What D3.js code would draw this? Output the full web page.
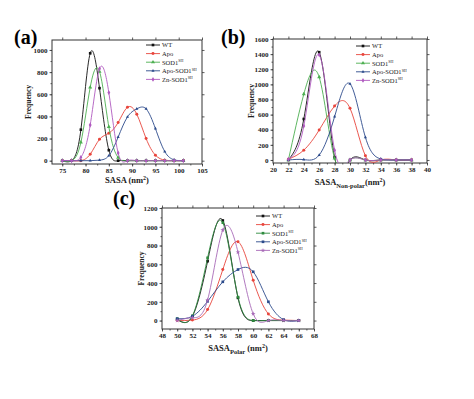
<body style="margin:0;background:#fff">
  <script src="https://d3js.org/d3.v7.min.js"></script>

  <style>
    text {
      font-family: "Liberation Serif", "DejaVu Serif", serif;
      font-weight: bold;
      fill: #222;
    }
    .tick-label { font-size: 7px; }
    .legend-text { font-size: 6.5px; font-weight: normal; }
    .panel-title { font-size: 20px; fill: #000; }
  </style>
  <script>

    // series names + colours
    const names = ["WT", "Apo", "SOD1", "Apo-SOD1", "Zn-SOD1"];
    const colors = ["#111111", "#e8453c", "#4caf50", "#2b4a8b", "#b05ac0"];
    const colorsC = ["#111111", "#e8453c", "#2e8b3e", "#2b4a8b", "#a86ab8"];

    // (a) SASA
    const aX = [75, 77, 79, 81, 83, 85, 87, 89, 91, 93, 95, 97, 99, 101];
    const aWT = [0, 0, 280, 970, 655, 95, 0, 0, 0, 0, 0, 0, 0, 0];
    const aApo = [0, 0, 0, 58, 193, 248, 345, 482, 420, 200, 50, 5, 0, 0];
    const aSOD1 = [0, 0, 165, 662, 805, 305, 28, 0, 0, 0, 0, 0, 0, 0];
    const aApoSOD1 = [0, 0, 0, 0, 5, 45, 213, 395, 468, 468, 290, 83, 8, 0];
    const aZnSOD1 = [0, 0, 30, 322, 830, 615, 70, 0, 0, 0, 0, 0, 0, 0];
    const aXTicks = [75, 80, 85, 90, 95, 100, 105];
    const aYTicks = [0, 200, 400, 600, 800, 1000];

    // (b) SASA non-polar
    const bX = [22, 24, 26, 28, 30, 32, 34, 36, 38];
    const bWT = [0, 542, 1425, 36, 0, 0, 0, 0, 0];
    const bApo = [10, 130, 397, 714, 684, 57, 0, 0, 0];
    const bSOD1 = [0, 870, 1095, 20, 0, 0, 0, 0, 0];
    const bApoSOD1 = [0, 5, 65, 573, 1007, 300, 14, 0, 0];
    const bZnSOD1 = [10, 450, 1390, 130, 0, 0, 0, 0, 0];
    const bXTicks = [20, 22, 24, 26, 28, 30, 32, 34, 36, 38, 40];
    const bYTicks = [0, 200, 400, 600, 800, 1000, 1200, 1400, 1600];

    // (c) SASA polar
    const cX = [50, 52, 54, 56, 58, 60, 62, 64, 66];
    const cWT = [10, 46, 633, 1067, 242, 0, 0, 0, 0];
    const cApo = [0, 5, 117, 544, 840, 430, 71, 5, 0];
    const cSOD1 = [20, 50, 669, 1043, 250, 0, 0, 0, 0];
    const cApoSOD1 = [20, 46, 205, 413, 544, 520, 200, 10, 0];
    const cZnSOD1 = [0, 30, 220, 964, 729, 72, 0, 0, 0];
    const cXTicks = [48, 50, 52, 54, 56, 58, 60, 62, 64, 66, 68];
    const cYTicks = [0, 200, 400, 600, 800, 1000, 1200];

    const svg = d3.select("body").append("svg")
      .attr("width", 474)
      .attr("height", 399);

    const symA = [d3.symbolSquare, d3.symbolCircle, d3.symbolTriangle, d3.symbolTriangle2, d3.symbolDiamond];
    const symC = [d3.symbolSquare, d3.symbolCircle, d3.symbolSquare, d3.symbolSquare, d3.symbolStar];

    function drawPanel(p) {
      const x = d3.scaleLinear().domain(p.xDomain).range([p.left, p.right]);
      const y = d3.scaleLinear().domain(p.yDomain).range([p.bottom, p.top]);
      const g = svg.append("g");

      // axes (bottom/left with labels, top/right ticks only)
      const minorX = d3.range(p.xTicks[0], p.xDomain[1] + 0.001, p.xMinor);
      const minorY = d3.range(0, p.yDomain[1] + 0.001, p.yMinor);

      g.append("g").attr("transform", "translate(0," + p.bottom + ")")
        .call(d3.axisBottom(x).tickValues(p.xTicks).tickSize(2.5).tickPadding(1.5).tickFormat(d3.format("d")));
      g.append("g").attr("transform", "translate(" + p.left + ",0)")
        .call(d3.axisLeft(y).tickValues(p.yTicks).tickSize(2.5).tickPadding(2).tickFormat(d3.format("d")));
      g.append("g").attr("transform", "translate(0," + p.top + ")")
        .call(d3.axisTop(x).tickValues(p.xTicks).tickSize(2.5).tickFormat(""));
      g.append("g").attr("transform", "translate(" + p.right + ",0)")
        .call(d3.axisRight(y).tickValues(p.yTicks).tickSize(2.5).tickFormat(""));
      g.append("g").attr("transform", "translate(0," + p.bottom + ")")
        .call(d3.axisBottom(x).tickValues(minorX).tickSize(1.5).tickFormat(""));
      g.append("g").attr("transform", "translate(" + p.left + ",0)")
        .call(d3.axisLeft(y).tickValues(minorY).tickSize(1.5).tickFormat(""));
      g.selectAll(".domain").remove();
      g.selectAll(".tick line").attr("stroke", "#333").attr("stroke-width", 0.8);
      g.selectAll(".tick text").attr("class", "tick-label").attr("fill", "#222");

      g.append("rect")
        .attr("x", p.left).attr("y", p.top)
        .attr("width", p.right - p.left).attr("height", p.bottom - p.top)
        .attr("fill", "none").attr("stroke", "#333").attr("stroke-width", 1);

      const line = d3.line()
        .x(d => x(d[0]))
        .y(d => y(d[1]))
        .curve(d3.curveNatural);

      const clip = "clip-" + p.id;
      svg.append("clipPath").attr("id", clip).append("rect")
        .attr("x", p.left).attr("y", p.top)
        .attr("width", p.right - p.left).attr("height", p.bottom - p.top);

      const plot = g.append("g").attr("clip-path", "url(#" + clip + ")");
      p.series.forEach((vals, i) => {
        const pts = p.xs.map((v, j) => [v, vals[j]]);
        plot.append("path")
          .attr("d", line(pts))
          .attr("fill", "none")
          .attr("stroke", p.colors[i])
          .attr("stroke-width", 0.9);
        plot.selectAll(null).data(pts).enter().append("path")
          .attr("transform", d => "translate(" + x(d[0]) + "," + y(d[1]) + ")")
          .attr("d", d3.symbol().type(p.symbols[i]).size(7))
          .attr("fill", p.colors[i]);
      });

      // legend
      names.forEach((n, i) => {
        const ly = p.legY + i * 8.6;
        g.append("line")
          .attr("x1", p.legX).attr("x2", p.legX + 14)
          .attr("y1", ly).attr("y2", ly)
          .attr("stroke", p.colors[i]).attr("stroke-width", 0.9);
        g.append("path")
          .attr("transform", "translate(" + (p.legX + 7) + "," + ly + ")")
          .attr("d", d3.symbol().type(p.symbols[i]).size(7))
          .attr("fill", p.colors[i]);
        const t = g.append("text")
          .attr("class", "legend-text")
          .attr("x", p.legX + 16).attr("y", ly + 2.3);
        if (n === "WT" || n === "Apo") {
          t.text(n);
        } else {
          t.append("tspan").text(n);
          t.append("tspan").attr("font-size", "4px").attr("dy", -2.5).text("SH");
        }
      });

      // y title
      g.append("text")
        .attr("transform", "translate(" + p.yTitleX + "," + ((p.top + p.bottom) / 2) + ") rotate(-90)")
        .attr("text-anchor", "middle")
        .attr("font-size", "7.5px")
        .text("Frequency");

      // x title
      const xt = g.append("text")
        .attr("x", p.xTitleX)
        .attr("y", p.xTitleY)
        .attr("text-anchor", "middle")
        .attr("font-size", "8.5px");
      xt.append("tspan").text("SASA");
      if (p.sub) {
        xt.append("tspan").attr("font-size", "6.5px").attr("dy", 2.5).text(p.sub);
        xt.append("tspan").attr("dy", -2.5).text(p.subGap ? " (nm" : "(nm");
      } else {
        xt.append("tspan").text(" (nm");
      }
      xt.append("tspan").attr("font-size", "6px").attr("dy", -3.5).text("2");
      xt.append("tspan").attr("dy", 3.5).text(")");

      // panel title
      g.append("text").attr("class", "panel-title")
        .attr("x", p.titleX).attr("y", p.titleY).text(p.title);
    }

    drawPanel({
      id: "a", title: "(a)", titleX: 14, titleY: 44,
      left: 52, right: 202, top: 40, bottom: 164,
      xDomain: [72.8, 105], yDomain: [-30, 1090],
      xTicks: aXTicks, yTicks: aYTicks, xMinor: 2.5, yMinor: 100,
      xs: aX, series: [aWT, aApo, aSOD1, aApoSOD1, aZnSOD1],
      colors: colors, symbols: symA,
      legX: 146, legY: 45, yTitleX: 31, xTitleX: 127, xTitleY: 183
    });

    drawPanel({
      id: "b", title: "(b)", titleX: 221, titleY: 44,
      left: 273, right: 427, top: 39, bottom: 163,
      xDomain: [20, 40], yDomain: [-40, 1600],
      xTicks: bXTicks, yTicks: bYTicks, xMinor: 1, yMinor: 100,
      xs: bX, series: [bWT, bApo, bSOD1, bApoSOD1, bZnSOD1],
      colors: colors, symbols: symA,
      legX: 356, legY: 46, yTitleX: 254, xTitleX: 350, xTitleY: 185, sub: "Non-polar"
    });

    drawPanel({
      id: "c", title: "(c)", titleX: 113, titleY: 205,
      left: 162, right: 314, top: 208, bottom: 329,
      xDomain: [48, 68], yDomain: [-90, 1200],
      xTicks: cXTicks, yTicks: cYTicks, xMinor: 1, yMinor: 100,
      xs: cX, series: [cWT, cApo, cSOD1, cApoSOD1, cZnSOD1],
      colors: colorsC, symbols: symC,
      legX: 256, legY: 216, yTitleX: 144, xTitleX: 238, xTitleY: 351, sub: "Polar", subGap: true
    });
  </script>
</body>
